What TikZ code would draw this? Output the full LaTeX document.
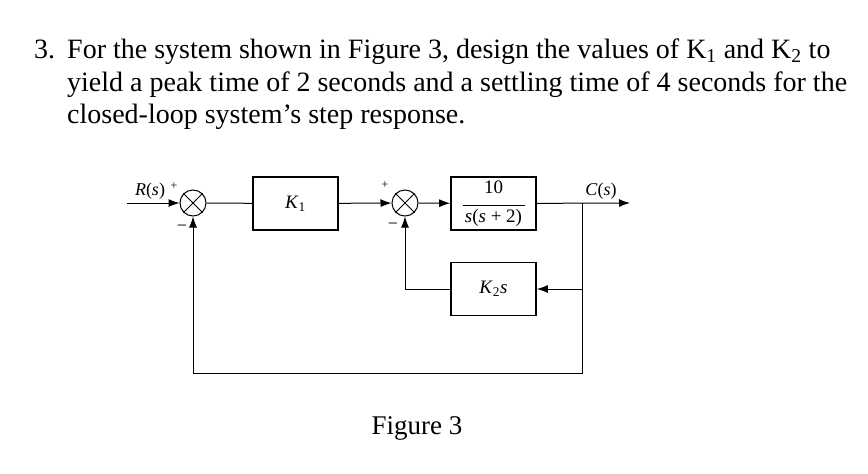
\documentclass[tikz,border=0pt]{standalone}
\usepackage{fontspec}
\setmainfont{Liberation Serif}
\usetikzlibrary{arrows.meta}
\begin{document}
\begin{tikzpicture}[x=1pt,y=-1pt,
  blk/.style={draw,line width=1.6pt,minimum width=85pt,minimum height=53pt,inner sep=0pt,font=\fontsize{19}{21}\selectfont},
  sum/.style={draw,circle,minimum size=26pt,inner sep=0pt,line width=1pt},
  ln/.style={line width=1pt},
  arr/.style={ln,-{Latex[length=11pt,width=8pt]}},
  lbl/.style={font=\fontsize{18}{20}\selectfont,inner sep=0pt},
  txt/.style={anchor=base west,inner sep=0pt,font=\fontsize{28}{30}\selectfont}]
\useasboundingbox (0,0) rectangle (868,474);
\node[txt] (l1) at (34,58) {3.};
\node[txt] (l1b) at (67,58) {For the system shown in Figure 3, design the values of K\textsubscript{1} and K\textsubscript{2} to};
\node[txt] (l2) at (67,91) {yield a peak time of 2 seconds and a settling time of 4 seconds for the};
\node[txt] (l3) at (67,123) {closed-loop system’s step response.};
\node[sum] (s1) at (193,203) {};
\draw[ln] (s1.north west) -- (s1.south east) (s1.north east) -- (s1.south west);
\node[sum] (s2) at (405,203) {};
\draw[ln] (s2.north west) -- (s2.south east) (s2.north east) -- (s2.south west);
\node[blk] (k1) at (295.5,203.5) {\textit{K}\textsubscript{1}};
\node[blk] (g) at (493.5,203.5) {\begin{tabular}{@{}c@{}}10\\[-5pt]\rule[3pt]{62pt}{0.8pt}\\[-8pt]\textit{s}(\textit{s} + 2)\end{tabular}};
\node[blk] (k2) at (493.5,289) {\textit{K}\textsubscript{2}\textit{s}};
\coordinate (in) at (127,203);
\coordinate (br) at (582,203);
\coordinate (out) at (630,203);
\coordinate (br2) at (582,289);
\coordinate (br3) at (582,373);
\coordinate (fb1) at (193,373);
\coordinate (fb2) at (405,289);
\draw[arr] (in) -- (s1);
\draw[ln] (s1) -- (k1);
\draw[arr] (k1) -- (s2);
\draw[arr] (s2) -- (g);
\draw[arr] (g) -- (out);
\draw[ln] (br) -- (br3) -- (fb1);
\draw[arr] (fb1) -- (s1);
\draw[arr] (br2) -- (k2);
\draw[ln] (k2) -- (fb2);
\draw[arr] (fb2) -- (s2);
\node[lbl] (r) at (150,191) {\textit{R}(\textit{s})};
\node[lbl,font=\fontsize{12}{13}\selectfont] (p1) at (174,186) {+};
\node[lbl] (m1) at (182,228) {−};
\node[lbl,font=\fontsize{12}{13}\selectfont] (p2) at (385,185) {+};
\node[lbl] (m2) at (393,226) {−};
\node[lbl] (c) at (601,191) {\textit{C}(\textit{s})};
\node[inner sep=0pt,font=\fontsize{27}{29}\selectfont] (fig) at (417,428) {Figure 3};
\end{tikzpicture}
\end{document}
